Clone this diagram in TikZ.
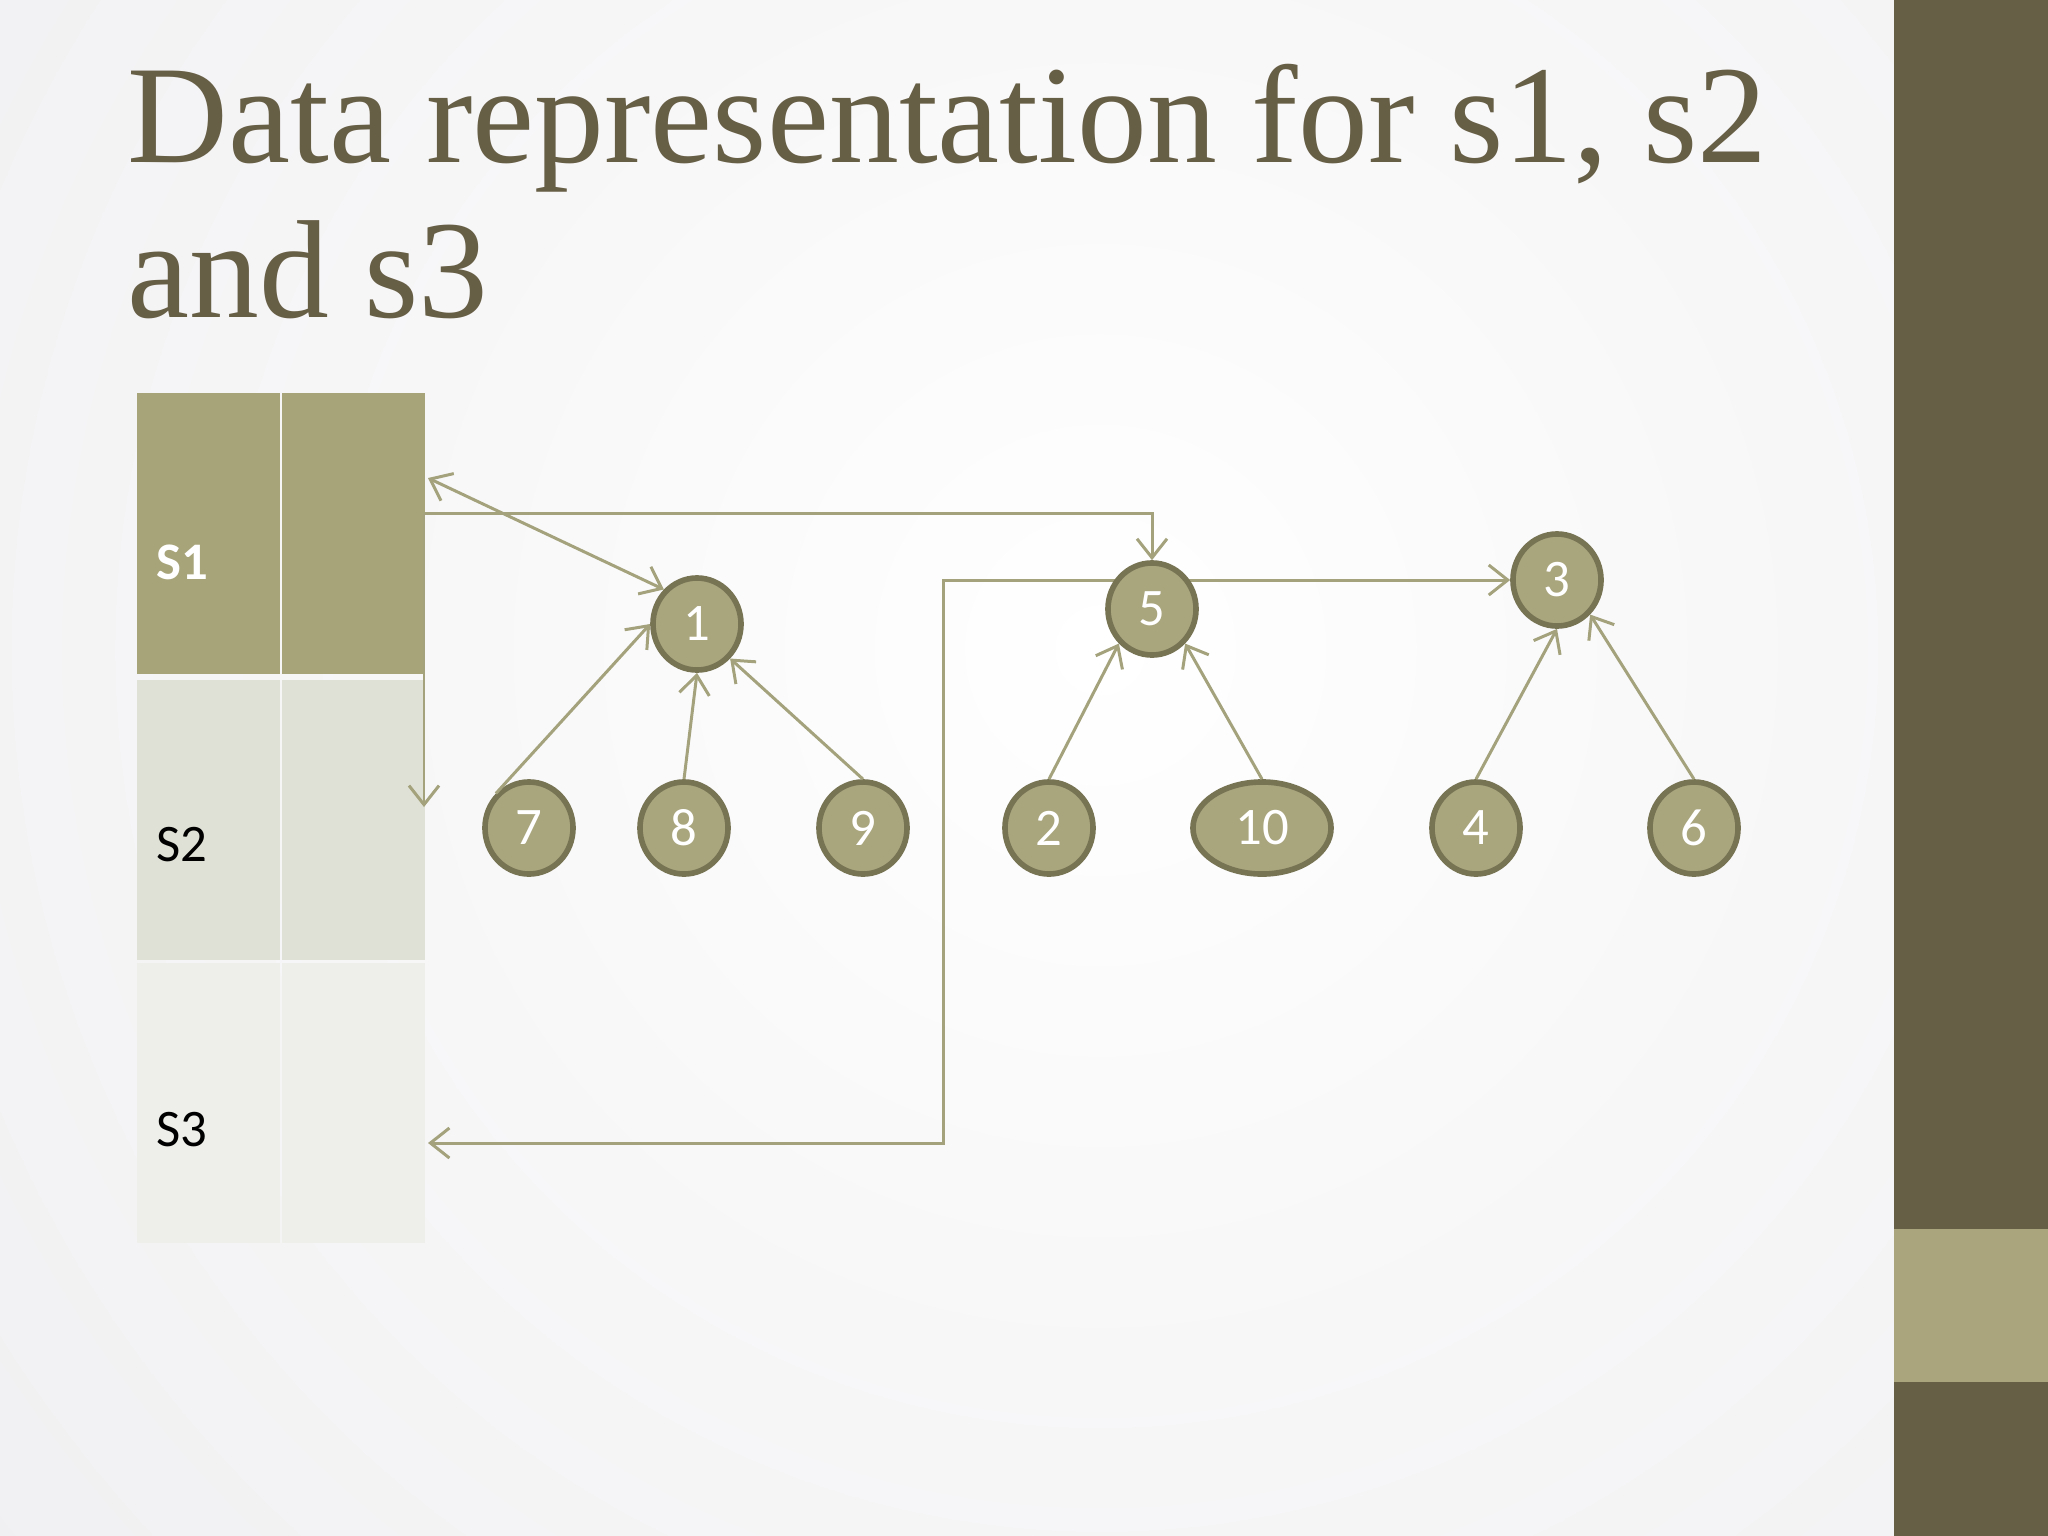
\documentclass[tikz,border=0pt]{standalone}
\usepackage{fontspec}
\setmainfont{Liberation Serif}
\newfontfamily\cellfont{Carlito}
\usepackage{tikz}
\usetikzlibrary{arrows.meta,positioning,calc,shapes.geometric,backgrounds}
\definecolor{olivedark}{HTML}{675E46}
\definecolor{olivelight}{HTML}{ABA57D}
\definecolor{cellone}{HTML}{A8A47A}
\definecolor{celltwo}{HTML}{E0E1D6}
\definecolor{cellthree}{HTML}{EEEEEA}
\definecolor{nodefill}{HTML}{A9A57D}
\definecolor{nodeline}{HTML}{777454}
\definecolor{linkcol}{HTML}{A3A27C}
\definecolor{bgout}{HTML}{E2E0E4}
\tikzset{cell/.style={rectangle, minimum width=1.42cm, minimum height=2.8cm, inner sep=0pt},
	rowlabel/.style={anchor=west, inner sep=0pt, font=\cellfont\fontsize{15}{15}\selectfont},
	elem/.style={ellipse, draw=nodeline, line width=1.6pt, fill=nodefill, minimum width=0.88cm, minimum height=0.92cm, inner sep=0pt, text=white, font=\cellfont\fontsize{15}{15}\selectfont},
	link/.style={draw=linkcol, line width=0.85pt, >={Straight Barb[length=1.9mm,width=3mm]}}}

\begin{document}
\begin{tikzpicture}[x=0.01cm,y=-0.01cm]
		\useasboundingbox (0,0) rectangle (2048,1536);
		\fill[olivedark] (1894,0) rectangle (2048,1229);
		\fill[olivelight] (1894,1229) rectangle (2048,1382);
		\fill[olivedark] (1894,1382) rectangle (2048,1536);
		\node[anchor=base west, align=left, inner sep=0pt, text=olivedark, font=\fontsize{39.7}{43.8}\selectfont] (title) at (127,317) {Data representation for s1, s2\\and s3};
		\node[cell, fill=cellone] (s1a) at (208.5,533.5) {};
		\node[cell, fill=cellone] (s1b) at (353.5,533.5) {};
		\node[cell, fill=celltwo] (s2a) at (208.5,820) {};
		\node[cell, fill=celltwo] (s2b) at (353.5,820) {};
		\node[cell, fill=cellthree] (s3a) at (208.5,1103) {};
		\node[cell, fill=cellthree] (s3b) at (353.5,1103) {};
		\node[rowlabel, text=white, font=\cellfont\bfseries\fontsize{15}{15}\selectfont] (l1) at (156,562) {S1};
		\node[rowlabel] (l2) at (156,845) {S2};
		\node[rowlabel] (l3) at (156,1130) {S3};
		\node[elem] (n1) at (697,624) {1};
		\node[elem] (n7) at (529,828) {7};
		\node[elem] (n8) at (684,828) {8};
		\node[elem] (n9) at (863,828) {9};
		\node[elem] (n5) at (1152,609) {5};
		\node[elem] (n2) at (1049,828) {2};
		\node[elem, minimum width=1.38cm] (n10) at (1262,828) {10};
		\node[elem] (n3) at (1557,580) {3};
		\node[elem] (n4) at (1476,828) {4};
		\node[elem] (n6) at (1694,828) {6};
		\coordinate (s1ptr) at (428,478);
		\coordinate (s1out) at (424,513);
		\coordinate (s2in) at (424,807);
		\coordinate (turn) at (943,1143);
		\coordinate (s3in) at (428,1143);
		\begin{scope}[on background layer]
			\begin{scope}
				\clip (0,0) rectangle (1894,1536);
				\shade[inner color=white, outer color=bgout] (-1700,-2150) rectangle (3900,3450);
			\end{scope}
			\draw[link,->] (n5 |- n3) -- (n3.west);
			\draw[link,->] (n5 |- n3) -| (turn) -- (s3in);
		\end{scope}
		\draw[link,<->] (s1ptr) -- (n1.north west);
		\draw[link,->] (s1out) -| (n5.north);
		\draw[link,->] (s1out) -- (s2in);
		\draw[link,->] (n7.north west) -- (n1.west);
		\draw[link,->] (n8.north) -- (n1.south);
		\draw[link,->] (n9.north) -- (n1.south east);
		\draw[link,->] (n2.north) -- (n5.south west);
		\draw[link,->] (n10.north) -- (n5.south east);
		\draw[link,->] (n4.north) -- (n3.south);
		\draw[link,->] (n6.north) -- (n3.south east);
\end{tikzpicture}
\end{document}
